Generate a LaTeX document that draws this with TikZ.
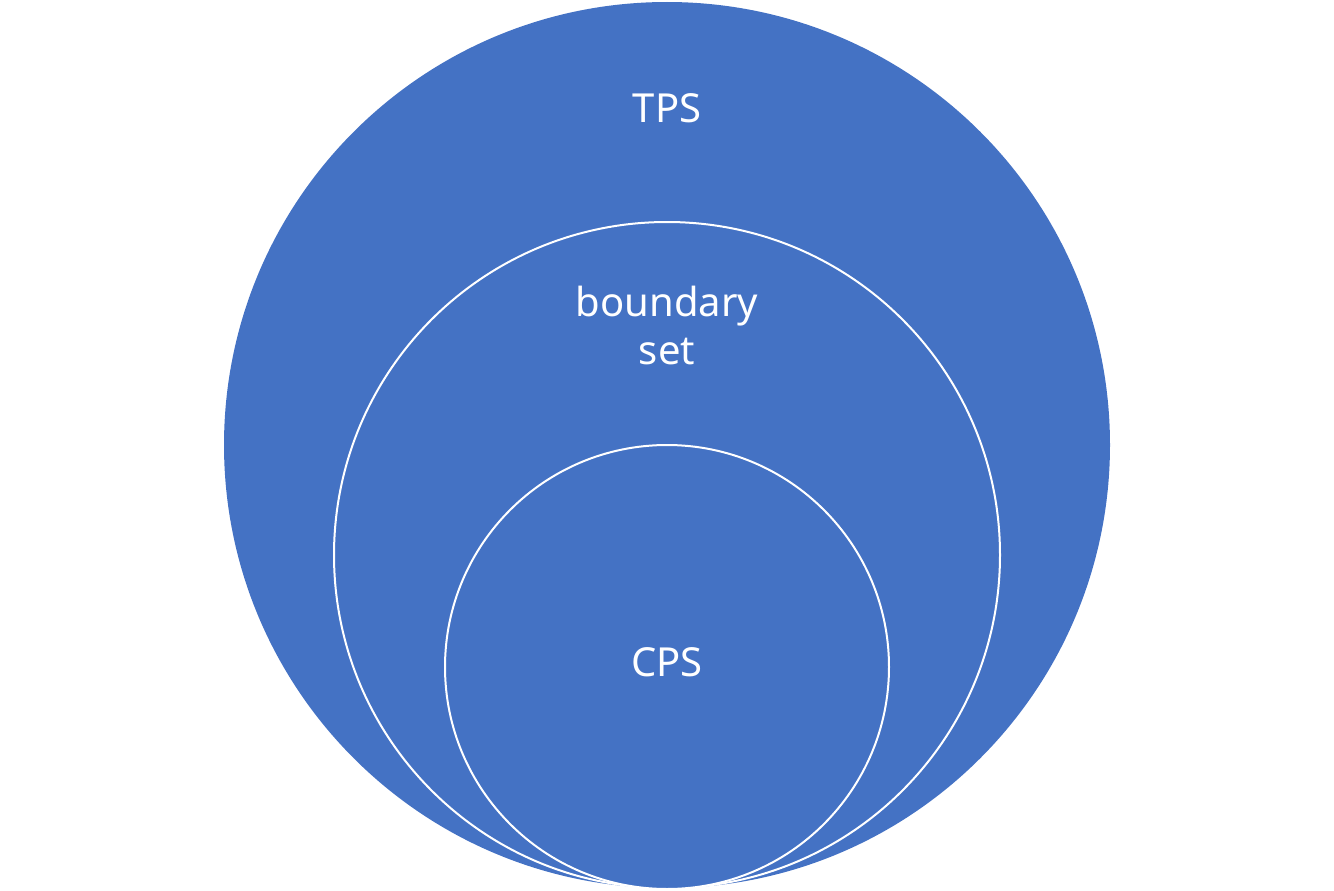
\documentclass[tikz,border=0pt]{standalone}
\usepackage{fontspec}
\setmainfont{Noto Sans}
\definecolor{fillblue}{HTML}{4472C4}
\begin{document}
\begin{tikzpicture}[x=1pt,y=-1pt,
  setcirc/.style={circle,fill=fillblue,draw=white,line width=2pt,inner sep=0pt},
  lbl/.style={text=white,font=\fontsize{40}{48}\selectfont,align=center}]
\useasboundingbox (0,0) rectangle (1334,891);
\node[setcirc,draw=none,minimum size=886pt] (tps) at (667,445) {};
\node[setcirc,minimum size=666pt] (bnd) at (667,555) {};
\node[setcirc,minimum size=444pt] (cps) at (667,667) {};
\node[lbl] (tpsl) at (667,108) {TPS};
\node[lbl] (bndl) at (667,325) {boundary\\set};
\node[lbl] (cpsl) at (667,662) {CPS};
\end{tikzpicture}
\end{document}
